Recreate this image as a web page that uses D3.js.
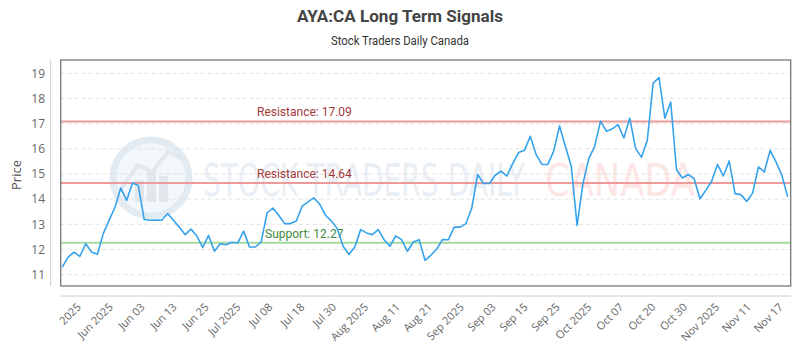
<!DOCTYPE html>
<html><head><meta charset="utf-8">
<script src="https://cdn.jsdelivr.net/npm/d3@7"></script>
<style>body{margin:0;background:#fff}svg{display:block}</style>
</head><body><svg id="c" width="800" height="350"></svg>
<script>
const prices = [11.30,11.70,11.90,11.73,12.23,11.90,11.81,12.63,13.16,13.68,14.44,13.95,14.64,14.54,13.19,13.16,13.17,13.16,13.43,13.16,12.89,12.59,12.81,12.54,12.08,12.56,11.93,12.23,12.19,12.29,12.26,12.73,
12.10,12.10,12.30,13.45,13.65,13.36,13.03,13.03,13.13,13.72,13.89,14.05,13.80,13.36,13.13,12.83,12.13,11.80,12.10,12.79,12.66,12.59,12.79,12.39,12.13,12.54,12.39,11.93,12.30,12.39,11.57,11.77,
12.01,12.40,12.39,12.89,12.89,13.03,13.65,14.98,14.62,14.62,14.95,15.11,14.92,15.41,15.85,15.94,16.50,15.77,15.38,15.38,15.91,16.91,16.10,15.31,12.96,14.62,15.61,16.10,17.10,
16.70,16.79,16.96,16.43,17.22,16.01,15.67,16.34,18.61,18.83,17.22,17.86,15.17,14.84,14.98,14.82,14.02,14.35,14.71,15.38,14.92,15.52,14.22,14.18,13.91,14.24,15.28,15.08,15.94,15.48,14.95,14.09];
const tickLabels = ["2025","Jun 2025","Jun 03","Jun 13","Jun 25","Jul 2025","Jul 08","Jul 18","Jul 30","Aug 2025","Aug 11","Aug 21","Sep 2025","Sep 03","Sep 15","Sep 25","Oct 2025","Oct 07","Oct 20","Oct 30","Nov 2025","Nov 11","Nov 17"];
const yTicks = [11,12,13,14,15,16,17,18,19];
const levels = [
  {label:"Resistance: 17.09", value:17.09, kind:"res"},
  {label:"Resistance: 14.64", value:14.64, kind:"res"},
  {label:"Support: 12.27", value:12.27, kind:"sup"}
];
const title = "AYA:CA Long Term Signals";
const subtitle = "Stock Traders Daily Canada";

const svg = d3.select("#c");
const L = 60.7, R = 790.7, T = 60, B = 286;
const x = d3.scaleLinear().domain([0, prices.length-1]).range([62.3, 787.7]);
const y = d3.scaleLinear().domain([10.55, 19.53]).range([B, T]);
const xt = d3.scalePoint().domain(tickLabels).range([79, 781]);

// title
svg.append("text").attr("x",400).attr("y",22).attr("text-anchor","middle")
  .attr("font-family","Roboto, 'Open Sans', sans-serif").attr("font-weight","bold").attr("font-size",17)
  .attr("fill","#444").attr("textLength",206).attr("lengthAdjust","spacingAndGlyphs").text(title);
svg.append("text").attr("x",400).attr("y",45).attr("text-anchor","middle")
  .attr("font-family","Roboto, 'Open Sans', sans-serif").attr("font-size",12)
  .attr("fill","#333").attr("textLength",138).attr("lengthAdjust","spacingAndGlyphs").text(subtitle);

// watermark
const wm = svg.append("g").attr("opacity",1);
wm.append("circle").attr("cx",151).attr("cy",178).attr("r",38).attr("fill","#f2f7fb").attr("stroke","#e3ebf2").attr("stroke-width",7);
[[-16,10,22],[-4,0,32],[8,6,26]].forEach(b=>{
  wm.append("rect").attr("x",151+b[0]).attr("y",178+b[1]-8).attr("width",9).attr("height",b[2]).attr("fill","#e1e7ec");
});
wm.append("path").attr("d","M120,190 L138,165 L152,172 L168,152 L185,160").attr("fill","none").attr("stroke","#e1e8ee").attr("stroke-width",4);
wm.append("text").attr("x",203).attr("y",196).attr("font-family","'DejaVu Sans Condensed','DejaVu Sans', sans-serif")
  .attr("font-size",44).attr("fill","#e9eff4").attr("textLength",322).attr("lengthAdjust","spacingAndGlyphs").text("STOCK TRADERS DAILY");
wm.append("text").attr("x",545).attr("y",196).attr("font-family","'DejaVu Sans Condensed','DejaVu Sans', sans-serif")
  .attr("font-size",44).attr("fill","#fce6e6").attr("textLength",150).attr("lengthAdjust","spacingAndGlyphs").text("CANADA");

// grid
svg.append("g").selectAll("line").data(yTicks).join("line")
  .attr("x1",L).attr("x2",R).attr("y1",d=>y(d)).attr("y2",d=>y(d))
  .attr("stroke","#e2e2e2").attr("stroke-dasharray","4,3").attr("stroke-width",1);

// y tick labels
svg.append("g").selectAll("text").data(yTicks).join("text")
  .attr("x",45).attr("y",d=>y(d)).attr("dy","0.35em").attr("text-anchor","end")
  .attr("font-family","'Open Sans', sans-serif").attr("font-size",12).attr("fill","#666").text(d=>d);
svg.append("text").attr("transform","translate(21,175) rotate(-90)").attr("text-anchor","middle")
  .attr("font-family","'Open Sans', sans-serif").attr("font-size",13).attr("fill","#555").text("Price");

// axis lines
svg.append("line").attr("x1",50.7).attr("x2",50.7).attr("y1",T).attr("y2",B).attr("stroke","#ccc");
svg.append("line").attr("x1",L).attr("x2",R).attr("y1",296).attr("y2",296).attr("stroke","#ccc");

// x tick labels
svg.append("g").selectAll("text").data(tickLabels).join("text")
  .attr("transform",d=>`translate(${xt(d)},305) rotate(-45)`).attr("dy","0.35em").attr("text-anchor","end")
  .attr("font-family","'Open Sans', sans-serif").attr("font-size",11).attr("fill","#666").text(d=>d);

// level lines
svg.append("g").selectAll("line").data(levels).join("line")
  .attr("x1",L).attr("x2",R).attr("y1",d=>y(d.value)).attr("y2",d=>y(d.value))
  .attr("stroke",d=>d.kind==="res"?"#ec9a9a":"#a6d9a0").attr("stroke-width",2);
svg.append("g").selectAll("text").data(levels).join("text")
  .attr("x",d=>d.kind==="res"?257:265).attr("y",d=>y(d.value)-5)
  .attr("font-family","Roboto, sans-serif").attr("font-size",12)
  .attr("fill",d=>d.kind==="res"?"#a33a3a":"#3d8a3d").text(d=>d.label);

// price line
svg.append("path").datum(prices).attr("fill","none").attr("stroke","#36a2eb").attr("stroke-width",1.6)
  .attr("stroke-linejoin","round")
  .attr("d",d3.line().x((d,i)=>x(i)).y(d=>y(d)));

// plot border
svg.append("rect").attr("x",L).attr("y",T).attr("width",R-L).attr("height",B-T)
  .attr("fill","none").attr("stroke","#777").attr("stroke-width",1.3);
</script></body></html>
